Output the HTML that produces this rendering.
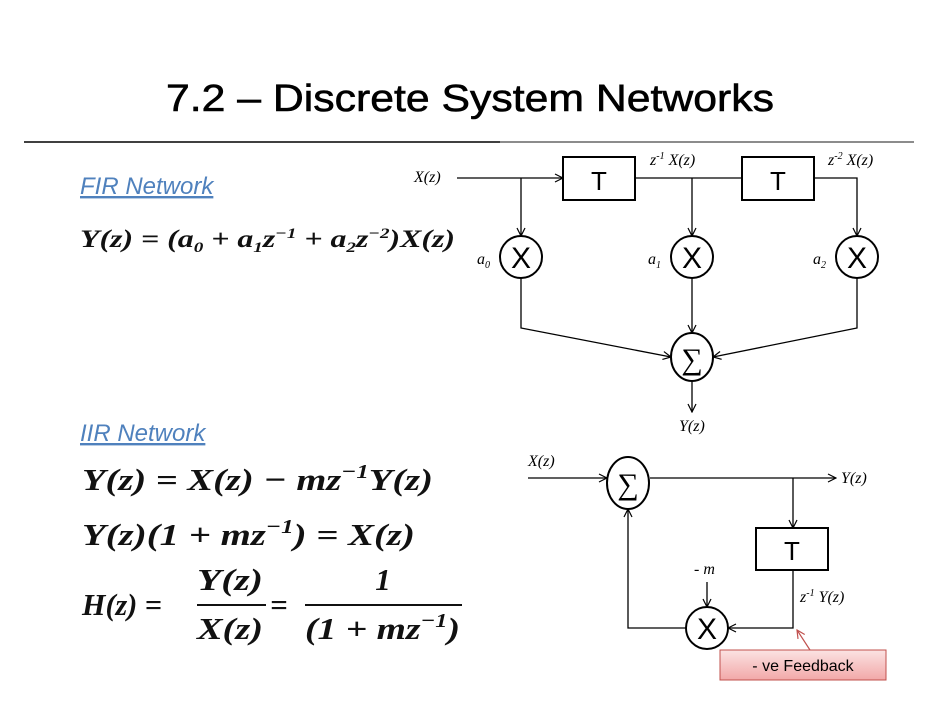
<!DOCTYPE html>
<html><head><meta charset="utf-8"><style>
html,body{margin:0;padding:0;background:#fff;}
svg{display:block;}
.it{font-family:"Liberation Serif",serif;font-style:italic;}
.eq{font-family:"Liberation Serif",serif;font-weight:bold;font-style:italic;}
</style></head><body>
<svg width="942" height="728" viewBox="0 0 942 728" xmlns="http://www.w3.org/2000/svg">
<defs>
<marker id="ar" markerWidth="10" markerHeight="10" refX="9" refY="5" orient="auto" markerUnits="userSpaceOnUse">
<path d="M1,1 L9,5 L1,9" fill="none" stroke="#000" stroke-width="1.2"/></marker>
<marker id="arr" markerWidth="10" markerHeight="10" refX="9" refY="5" orient="auto" markerUnits="userSpaceOnUse">
<path d="M1,1 L9,5 L1,9" fill="none" stroke="#c0504d" stroke-width="1.2"/></marker>
<linearGradient id="pk" x1="0" y1="0" x2="0" y2="1"><stop offset="0" stop-color="#fbe3e3"/><stop offset="1" stop-color="#f2a8a8"/></linearGradient>
</defs>
<text x="166" y="111" textLength="608" lengthAdjust="spacingAndGlyphs" font-family="Liberation Sans,sans-serif" font-size="38" fill="#000" stroke="#000" stroke-width="0.6">7.2 – Discrete System Networks</text>
<line x1="24" y1="142" x2="500" y2="142" stroke="#000" stroke-width="1.5"/>
<line x1="500" y1="142" x2="914" y2="142" stroke="#666" stroke-width="1.5"/>

<text x="80" y="194" font-family="Liberation Sans,sans-serif" font-style="italic" font-size="24" fill="#4f81bd" text-decoration="underline">FIR Network</text>
<text x="80" y="247" textLength="375" lengthAdjust="spacingAndGlyphs" class="eq" font-size="25" fill="#111">Y(z) = (a<tspan font-size="15" dy="5">0</tspan><tspan dy="-5"> + a</tspan><tspan font-size="15" dy="5">1</tspan><tspan dy="-5">z</tspan><tspan font-size="15" dy="-9">−1</tspan><tspan dy="9"> + a</tspan><tspan font-size="15" dy="5">2</tspan><tspan dy="-5">z</tspan><tspan font-size="15" dy="-9">−2</tspan><tspan dy="9">)X(z)</tspan></text>

<text x="80" y="441" font-family="Liberation Sans,sans-serif" font-style="italic" font-size="24" fill="#4f81bd" text-decoration="underline">IIR Network</text>
<text x="82" y="490" textLength="351" lengthAdjust="spacingAndGlyphs" class="eq" font-size="31" fill="#111">Y(z) = X(z) − mz<tspan font-size="20" dy="-12">−1</tspan><tspan dy="12">Y(z)</tspan></text>
<text x="82" y="545" textLength="333" lengthAdjust="spacingAndGlyphs" class="eq" font-size="31" fill="#111">Y(z)(1 + mz<tspan font-size="20" dy="-12">−1</tspan><tspan dy="12">) = X(z)</tspan></text>
<text x="82" y="615" textLength="80" lengthAdjust="spacingAndGlyphs" class="eq" font-size="31" fill="#111">H(z) =</text>
<text x="197" y="590" textLength="66" lengthAdjust="spacingAndGlyphs" class="eq" font-size="31" fill="#111">Y(z)</text>
<line x1="197" y1="605" x2="266" y2="605" stroke="#111" stroke-width="2"/>
<text x="197" y="639" textLength="66" lengthAdjust="spacingAndGlyphs" class="eq" font-size="31" fill="#111">X(z)</text>
<text x="270" y="615" class="eq" font-size="31" fill="#111">=</text>
<text x="383" y="590" text-anchor="middle" class="eq" font-size="31" fill="#111">1</text>
<line x1="305" y1="605" x2="462" y2="605" stroke="#111" stroke-width="2"/>
<text x="305" y="639" textLength="155" lengthAdjust="spacingAndGlyphs" class="eq" font-size="31" fill="#111">(1 + mz<tspan font-size="20" dy="-12">−1</tspan><tspan dy="12">)</tspan></text>

<g stroke="#000" stroke-width="1.3" fill="none">
<line x1="457" y1="178" x2="563" y2="178" marker-end="url(#ar)"/>
<rect x="563" y="157" width="72" height="43" stroke-width="2"/>
<rect x="742" y="157" width="72" height="43" stroke-width="2"/>
<line x1="635" y1="178" x2="742" y2="178"/>
<polyline points="814,178 857,178 857,236" marker-end="url(#ar)"/>
<line x1="521" y1="178" x2="521" y2="236" marker-end="url(#ar)"/>
<line x1="692" y1="178" x2="692" y2="236" marker-end="url(#ar)"/>
<circle cx="521" cy="257" r="21" stroke-width="2"/>
<circle cx="692" cy="257" r="21" stroke-width="2"/>
<circle cx="857" cy="257" r="21" stroke-width="2"/>
<polyline points="521,278 521,328 671,357" marker-end="url(#ar)"/>
<polyline points="857,278 857,328 713,357" marker-end="url(#ar)"/>
<line x1="692" y1="278" x2="692" y2="333" marker-end="url(#ar)"/>
<ellipse cx="692" cy="357" rx="21" ry="24" stroke-width="2"/>
<line x1="692" y1="381" x2="692" y2="412" marker-end="url(#ar)"/>
<line x1="528" y1="478" x2="607" y2="478" marker-end="url(#ar)"/>
<ellipse cx="628" cy="483" rx="21" ry="26" stroke-width="2"/>
<line x1="650" y1="478" x2="836" y2="478" marker-end="url(#ar)"/>
<line x1="793" y1="478" x2="793" y2="528" marker-end="url(#ar)"/>
<rect x="756" y="528" width="72" height="42" stroke-width="2"/>
<polyline points="793,570 793,628 728,628" marker-end="url(#ar)"/>
<circle cx="707" cy="628" r="21" stroke-width="2"/>
<line x1="707" y1="582" x2="707" y2="607" marker-end="url(#ar)"/>
<polyline points="686,628 628,628 628,509" marker-end="url(#ar)"/>
</g>
<g font-family="Liberation Sans,sans-serif" font-size="30" text-anchor="middle" fill="#000">
<text x="599" y="190" font-size="26">T</text>
<text x="778" y="190" font-size="26">T</text>
<text x="792" y="560" font-size="26">T</text>
<text x="521" y="268">X</text>
<text x="692" y="268">X</text>
<text x="857" y="268">X</text>
<text x="707" y="639">X</text>
<text x="692" y="369" font-family="Liberation Serif,serif" font-size="30">∑</text>
<text x="628" y="494" font-family="Liberation Serif,serif" font-size="30">∑</text>
</g>
<g class="it" font-size="16" fill="#000">
<text x="414" y="182">X(z)</text>
<text x="650" y="165">z<tspan font-size="10" dy="-6">-1</tspan><tspan dy="6"> X(z)</tspan></text>
<text x="828" y="165">z<tspan font-size="10" dy="-6">-2</tspan><tspan dy="6"> X(z)</tspan></text>
<text x="477" y="264">a<tspan font-size="10" dy="4">0</tspan></text>
<text x="648" y="264">a<tspan font-size="10" dy="4">1</tspan></text>
<text x="813" y="264">a<tspan font-size="10" dy="4">2</tspan></text>
<text x="679" y="431">Y(z)</text>
<text x="528" y="466">X(z)</text>
<text x="841" y="483">Y(z)</text>
<text x="694" y="574">- m</text>
<text x="800" y="602">z<tspan font-size="10" dy="-6">-1</tspan><tspan dy="6"> Y(z)</tspan></text>
</g>
<line x1="810" y1="650" x2="797" y2="630" stroke="#c0504d" stroke-width="1.2" marker-end="url(#arr)"/>
<rect x="720" y="650" width="166" height="30" fill="url(#pk)" stroke="#c0504d" stroke-width="1"/>
<text x="803" y="671" text-anchor="middle" font-family="Liberation Sans,sans-serif" font-size="16" fill="#000">- ve Feedback</text>
</svg>
</body></html>
